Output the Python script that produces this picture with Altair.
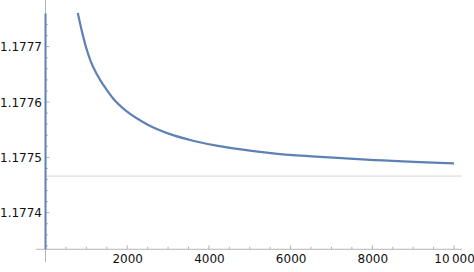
import altair as alt
import pandas as pd

# curve values
curve_x = [790, 900, 1000, 1100, 1250, 1415, 1660, 1990, 2480, 3050, 3610, 4440, 5250, 6060, 6720, 7860, 10000]
curve_y = [1.177761, 1.177725, 1.177697, 1.177675, 1.177651, 1.177631, 1.177606, 1.177583, 1.177560,
           1.177542, 1.177530, 1.177518, 1.177510, 1.177504, 1.177501, 1.177496, 1.177489]

x_major = [2000, 4000, 6000, 8000, 10000]
x_minor = [500, 1000, 1500, 2500, 3000, 3500, 4500, 5000, 5500, 6500, 7000, 7500, 8500, 9000, 9500]
y_major = [1.1774, 1.1775, 1.1776, 1.1777]
y_minor = [1.17734, 1.17736, 1.17738, 1.17742, 1.17744, 1.17746, 1.17748, 1.17752, 1.17754,
           1.17756, 1.17758, 1.17762, 1.17764, 1.17766, 1.17768, 1.17772, 1.17774]

asymptote = 1.1774662
axis_y = 1.1773339
clip_top = 1.17776
X_DOMAIN = [-233, 10195]
X_AXIS_END = 10190
Y_DOMAIN = [1.1773109, 1.1777844]

AXIS_GRAY = "#b4b4b4"
BLUE = "#5E81B5"

xscale = alt.Scale(domain=X_DOMAIN, nice=False, zero=False)
yscale = alt.Scale(domain=Y_DOMAIN, nice=False, zero=False)

xaxis = alt.Axis(orient="bottom", offset=-12.7, domain=False, ticks=False, grid=False,
                 values=x_major, labelExpr="datum.value >= 10000 ? '10\u2009000' : format(datum.value, 'd')",
                 labelFont="DejaVu Sans", labelFontSize=12, labelColor="#111111",
                 labelPadding=4.5, labelOverlap=False, labelFlush=False, title=None)
yaxis = alt.Axis(orient="left", offset=-9.5, domain=False, ticks=False, grid=False,
                 values=y_major, format=".4f",
                 labelFont="DejaVu Sans", labelFontSize=12, labelColor="#111111",
                 labelPadding=4, labelOverlap=False, labelFlush=False, title=None)


def X(f):
    return alt.X(f, type="quantitative", scale=xscale, axis=xaxis)


def Y(f):
    return alt.Y(f, type="quantitative", scale=yscale, axis=yaxis)


axes_df = pd.DataFrame({"x": [0, X_DOMAIN[0]], "x2": [0, X_AXIS_END],
                        "y": [Y_DOMAIN[0], axis_y], "y2": [Y_DOMAIN[1], axis_y]})

ytick_rows = [{"x": 0, "x2": 100, "y": v, "y2": v} for v in y_major] + \
             [{"x": 0, "x2": 60, "y": v, "y2": v} for v in y_minor]
xtick_rows = [{"x": v, "x2": v, "y": axis_y, "y2": axis_y + 0.0000072} for v in x_major] + \
             [{"x": v, "x2": v, "y": axis_y, "y2": axis_y + 0.0000045} for v in x_minor]
ticks_df = pd.DataFrame(ytick_rows + xtick_rows)

asym_df = pd.DataFrame({"x": [0], "x2": [X_AXIS_END], "y": [asymptote], "y2": [asymptote]})
vert_df = pd.DataFrame({"x": [0], "x2": [0], "y": [axis_y], "y2": [clip_top]})
curve_df = pd.DataFrame({"x": curve_x, "y": curve_y})

axes_layer = alt.Chart(axes_df).mark_rule(color=AXIS_GRAY, strokeWidth=1).encode(
    x=X("x"), x2="x2", y=Y("y"), y2="y2")
ticks_layer = alt.Chart(ticks_df).mark_rule(color=AXIS_GRAY, strokeWidth=1).encode(
    x=X("x"), x2="x2", y=Y("y"), y2="y2")
asym_layer = alt.Chart(asym_df).mark_rule(color="#d4d4d4", strokeWidth=1).encode(
    x=X("x"), x2="x2", y=Y("y"), y2="y2")
vert_layer = alt.Chart(vert_df).mark_rule(color=BLUE, strokeWidth=2).encode(
    x=X("x"), x2="x2", y=Y("y"), y2="y2")
curve_layer = alt.Chart(curve_df).mark_line(color=BLUE, strokeWidth=2.2, interpolate="monotone").encode(
    x=X("x"), y=Y("y"))

chart = alt.layer(axes_layer, asym_layer, ticks_layer, vert_layer, curve_layer).properties(
    width=426, height=262,
    padding={"left": 36, "top": 0, "right": 12, "bottom": 10},
    autosize=alt.AutoSizeParams(type="none"),
    background="white",
).configure_view(stroke=None)

chart.save("out.html", embed_options={"renderer": "svg", "actions": False})
